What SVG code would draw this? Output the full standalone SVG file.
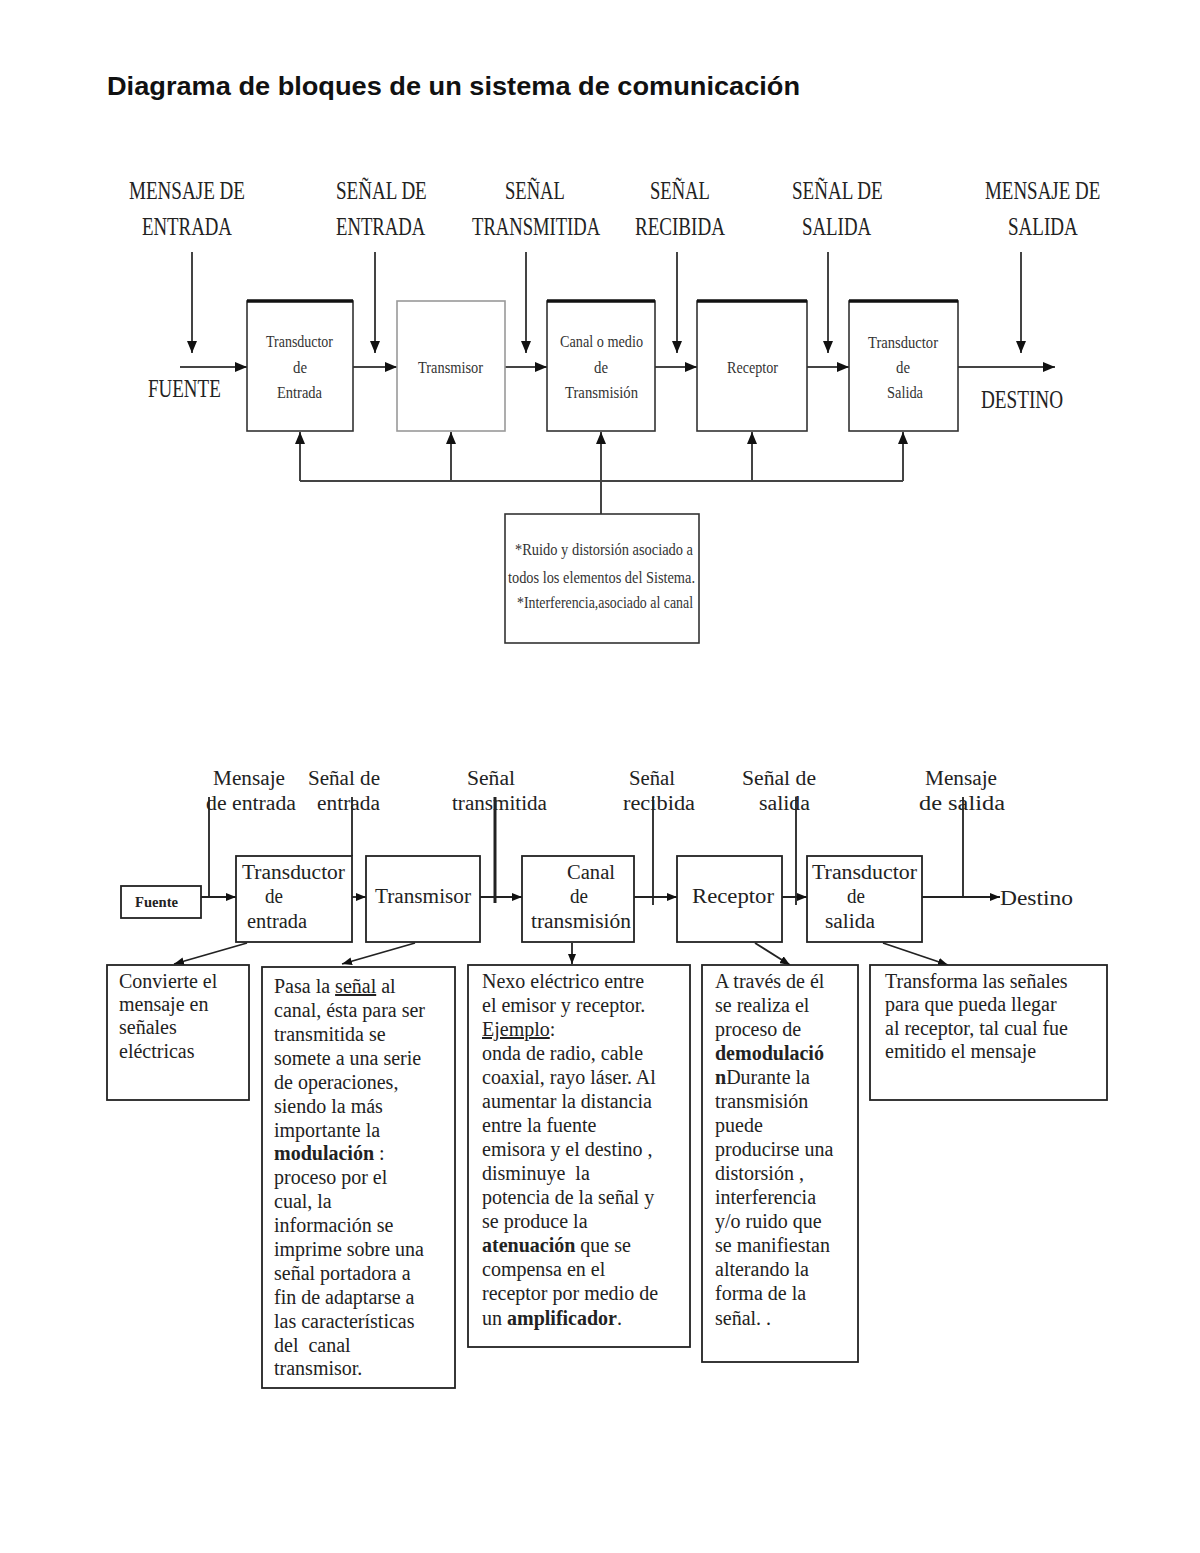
<svg xmlns="http://www.w3.org/2000/svg" width="1200" height="1553" viewBox="0 0 1200 1553">
<style>
.title{font-family:"Liberation Sans",Arial,sans-serif;font-weight:bold;font-size:25px;fill:#111}
.lbl{font-family:"Liberation Serif","Times New Roman",serif;font-size:26px;fill:#222}
.bt{font-family:"Liberation Serif","Times New Roman",serif;font-size:17px;fill:#333}
.nt{font-family:"Liberation Serif","Times New Roman",serif;font-size:16px;fill:#333}
.lb2{font-family:"Liberation Serif","Times New Roman",serif;font-size:20px;fill:#222}
.dt{font-family:"Liberation Serif","Times New Roman",serif;font-size:20px;fill:#222}
.box1{fill:#fff;stroke:#333;stroke-width:1.6}
.box1g{fill:#fff;stroke:#999;stroke-width:1.6}
.topedge{stroke:#111;stroke-width:3.5}
.box2{fill:#fff;stroke:#222;stroke-width:1.8}
.ln{stroke:#444;stroke-width:2;fill:none}
.ln2{stroke:#222;stroke-width:1.8;fill:none}
.b{font-weight:bold}
.u{text-decoration:underline}
</style>
<defs>
<marker id="ah" markerUnits="userSpaceOnUse" markerWidth="12" markerHeight="10" refX="12" refY="5" orient="auto">
<path d="M0,0 L12,5 L0,10 Z" fill="#111"/>
</marker>
<marker id="ah2" markerUnits="userSpaceOnUse" markerWidth="10" markerHeight="8" refX="10" refY="4" orient="auto">
<path d="M0,0 L10,4 L0,8 Z" fill="#111"/>
</marker>
</defs>
<rect width="1200" height="1553" fill="#fff"/>
<text class="title" x="107" y="95" textLength="693" lengthAdjust="spacingAndGlyphs">Diagrama de bloques de un sistema de comunicación</text>

<!-- Top diagram labels (horizontally condensed) -->
<g id="top-labels" transform="scale(0.72,1)">
<text class="lbl" x="179.2" y="199" textLength="161" lengthAdjust="spacingAndGlyphs">MENSAJE DE</text>
<text class="lbl" x="197.2" y="235" textLength="125" lengthAdjust="spacingAndGlyphs">ENTRADA</text>
<text class="lbl" x="466.7" y="199" textLength="126" lengthAdjust="spacingAndGlyphs">SEÑAL DE</text>
<text class="lbl" x="466.7" y="235" textLength="124" lengthAdjust="spacingAndGlyphs">ENTRADA</text>
<text class="lbl" x="701.4" y="199" textLength="83" lengthAdjust="spacingAndGlyphs">SEÑAL</text>
<text class="lbl" x="655.6" y="235" textLength="178" lengthAdjust="spacingAndGlyphs">TRANSMITIDA</text>
<text class="lbl" x="902.8" y="199" textLength="83" lengthAdjust="spacingAndGlyphs">SEÑAL</text>
<text class="lbl" x="881.9" y="235" textLength="125" lengthAdjust="spacingAndGlyphs">RECIBIDA</text>
<text class="lbl" x="1100" y="199" textLength="126" lengthAdjust="spacingAndGlyphs">SEÑAL DE</text>
<text class="lbl" x="1113.9" y="235" textLength="96" lengthAdjust="spacingAndGlyphs">SALIDA</text>
<text class="lbl" x="1368.1" y="199" textLength="160" lengthAdjust="spacingAndGlyphs">MENSAJE DE</text>
<text class="lbl" x="1400" y="235" textLength="97" lengthAdjust="spacingAndGlyphs">SALIDA</text>
<text class="lbl" x="205.6" y="397" textLength="101" lengthAdjust="spacingAndGlyphs">FUENTE</text>
<text class="lbl" x="1362.5" y="408" textLength="114" lengthAdjust="spacingAndGlyphs">DESTINO</text>
</g>

<!-- Top connectors -->
<g id="top-connectors">
<line class="ln" x1="180" y1="367" x2="247" y2="367" marker-end="url(#ah)"/>
<line class="ln" x1="353" y1="367" x2="397" y2="367" marker-end="url(#ah)"/>
<line class="ln" x1="505" y1="367" x2="547" y2="367" marker-end="url(#ah)"/>
<line class="ln" x1="655" y1="367" x2="697" y2="367" marker-end="url(#ah)"/>
<line class="ln" x1="807" y1="367" x2="849" y2="367" marker-end="url(#ah)"/>
<line class="ln" x1="958" y1="367" x2="1055" y2="367" marker-end="url(#ah)"/>
<line class="ln" x1="192" y1="252" x2="192" y2="353" marker-end="url(#ah)"/>
<line class="ln" x1="375" y1="252" x2="375" y2="353" marker-end="url(#ah)"/>
<line class="ln" x1="526" y1="252" x2="526" y2="353" marker-end="url(#ah)"/>
<line class="ln" x1="677" y1="252" x2="677" y2="353" marker-end="url(#ah)"/>
<line class="ln" x1="828" y1="252" x2="828" y2="353" marker-end="url(#ah)"/>
<line class="ln" x1="1021" y1="252" x2="1021" y2="353" marker-end="url(#ah)"/>
<line class="ln" x1="300" y1="481" x2="903" y2="481"/>
<line class="ln" x1="300" y1="481" x2="300" y2="432" marker-end="url(#ah)"/>
<line class="ln" x1="451" y1="481" x2="451" y2="432" marker-end="url(#ah)"/>
<line class="ln" x1="601" y1="481" x2="601" y2="432" marker-end="url(#ah)"/>
<line class="ln" x1="752" y1="481" x2="752" y2="432" marker-end="url(#ah)"/>
<line class="ln" x1="903" y1="481" x2="903" y2="432" marker-end="url(#ah)"/>
<line class="ln" x1="601" y1="481" x2="601" y2="514"/>
</g>

<!-- Top nodes -->
<g id="t-transductor-entrada">
<rect class="box1" x="247" y="301" width="106" height="130"/>
<line class="topedge" x1="247" y1="301" x2="353" y2="301"/>
<text class="bt" x="266" y="347" textLength="67" lengthAdjust="spacingAndGlyphs">Transductor</text>
<text class="bt" x="293" y="373" textLength="14" lengthAdjust="spacingAndGlyphs">de</text>
<text class="bt" x="277" y="398" textLength="45" lengthAdjust="spacingAndGlyphs">Entrada</text>
</g>
<g id="t-transmisor">
<rect class="box1g" x="397" y="301" width="108" height="130"/>
<text class="bt" x="418" y="373" textLength="65" lengthAdjust="spacingAndGlyphs">Transmisor</text>
</g>
<g id="t-canal">
<rect class="box1" x="547" y="301" width="108" height="130"/>
<line class="topedge" x1="547" y1="301" x2="655" y2="301"/>
<text class="bt" x="560" y="347" textLength="83" lengthAdjust="spacingAndGlyphs">Canal o medio</text>
<text class="bt" x="594" y="373" textLength="14" lengthAdjust="spacingAndGlyphs">de</text>
<text class="bt" x="565" y="398" textLength="73" lengthAdjust="spacingAndGlyphs">Transmisión</text>
</g>
<g id="t-receptor">
<rect class="box1" x="697" y="301" width="110" height="130"/>
<line class="topedge" x1="697" y1="301" x2="807" y2="301"/>
<text class="bt" x="727" y="373" textLength="51" lengthAdjust="spacingAndGlyphs">Receptor</text>
</g>
<g id="t-transductor-salida">
<rect class="box1" x="849" y="301" width="109" height="130"/>
<line class="topedge" x1="849" y1="301" x2="958" y2="301"/>
<text class="bt" x="868" y="348" textLength="70" lengthAdjust="spacingAndGlyphs">Transductor</text>
<text class="bt" x="896" y="373" textLength="14" lengthAdjust="spacingAndGlyphs">de</text>
<text class="bt" x="887" y="398" textLength="36" lengthAdjust="spacingAndGlyphs">Salida</text>
</g>
<g id="t-ruido">
<rect class="box1" x="505" y="514" width="194" height="129"/>
<text class="nt" x="515" y="555" textLength="178" lengthAdjust="spacingAndGlyphs">*Ruido y distorsión asociado a</text>
<text class="nt" x="508" y="583" textLength="187" lengthAdjust="spacingAndGlyphs">todos los elementos del Sistema.</text>
<text class="nt" x="517" y="608" textLength="176" lengthAdjust="spacingAndGlyphs">*Interferencia,asociado al canal</text>
</g>

<!-- Bottom labels -->
<g id="bottom-labels">
<text class="lb2" x="213" y="785" textLength="72" lengthAdjust="spacingAndGlyphs">Mensaje</text>
<text class="lb2" x="206" y="810" textLength="90" lengthAdjust="spacingAndGlyphs">de entrada</text>
<text class="lb2" x="308" y="785" textLength="72" lengthAdjust="spacingAndGlyphs">Señal de</text>
<text class="lb2" x="317" y="810" textLength="63" lengthAdjust="spacingAndGlyphs">entrada</text>
<text class="lb2" x="467" y="785" textLength="48" lengthAdjust="spacingAndGlyphs">Señal</text>
<text class="lb2" x="452" y="810" textLength="95" lengthAdjust="spacingAndGlyphs">transmitida</text>
<text class="lb2" x="629" y="785" textLength="46" lengthAdjust="spacingAndGlyphs">Señal</text>
<text class="lb2" x="623" y="810" textLength="72" lengthAdjust="spacingAndGlyphs">recibida</text>
<text class="lb2" x="742" y="785" textLength="74" lengthAdjust="spacingAndGlyphs">Señal de</text>
<text class="lb2" x="759" y="810" textLength="51" lengthAdjust="spacingAndGlyphs">salida</text>
<text class="lb2" x="925" y="785" textLength="72" lengthAdjust="spacingAndGlyphs">Mensaje</text>
<text class="lb2" x="919" y="810" textLength="86" lengthAdjust="spacingAndGlyphs">de salida</text>
<text class="lb2" x="1000" y="905" textLength="73" lengthAdjust="spacingAndGlyphs">Destino</text>
</g>

<!-- Bottom connectors -->
<g id="bottom-connectors">
<line class="ln2" x1="201" y1="897" x2="236" y2="897" marker-end="url(#ah2)"/>
<line class="ln2" x1="209" y1="797" x2="209" y2="897"/>
<line class="ln2" x1="352" y1="897" x2="366" y2="897" marker-end="url(#ah2)"/>
<line class="ln2" x1="352" y1="797" x2="352" y2="856"/>
<line class="ln2" x1="480" y1="897" x2="522" y2="897" marker-end="url(#ah2)"/>
<line class="ln2" x1="495" y1="797" x2="495" y2="903" style="stroke-width:3"/>
<line class="ln2" x1="634" y1="897" x2="677" y2="897" marker-end="url(#ah2)"/>
<line class="ln2" x1="653" y1="797" x2="653" y2="905"/>
<line class="ln2" x1="765" y1="897" x2="807" y2="897" marker-end="url(#ah2)"/>
<line class="ln2" x1="796" y1="797" x2="796" y2="905"/>
<line class="ln2" x1="922" y1="897" x2="1000" y2="897" marker-end="url(#ah2)"/>
<line class="ln2" x1="963" y1="797" x2="963" y2="897"/>
<line class="ln2" x1="247" y1="943" x2="174" y2="964" marker-end="url(#ah2)"/>
<line class="ln2" x1="415" y1="943" x2="342" y2="964" marker-end="url(#ah2)"/>
<line class="ln2" x1="572" y1="943" x2="572" y2="964" marker-end="url(#ah2)"/>
<line class="ln2" x1="755" y1="943" x2="790" y2="965" marker-end="url(#ah2)"/>
<line class="ln2" x1="883" y1="943" x2="948" y2="965" marker-end="url(#ah2)"/>
</g>

<!-- Bottom nodes -->
<g id="b-fuente">
<rect class="box2" x="121" y="886" width="80" height="32"/>
<text class="lb2 b" x="135" y="907" style="font-size:14px" textLength="43" lengthAdjust="spacingAndGlyphs">Fuente</text>
</g>
<g id="b-transductor-entrada">
<rect class="box2" x="236" y="856" width="116" height="86"/>
<text class="lb2" x="242" y="879" textLength="103" lengthAdjust="spacingAndGlyphs">Transductor</text>
<text class="lb2" x="265" y="903" textLength="18" lengthAdjust="spacingAndGlyphs">de</text>
<text class="lb2" x="247" y="928" textLength="60" lengthAdjust="spacingAndGlyphs">entrada</text>
</g>
<g id="b-transmisor">
<rect class="box2" x="366" y="856" width="114" height="86"/>
<text class="lb2" x="375" y="903" textLength="96" lengthAdjust="spacingAndGlyphs">Transmisor</text>
</g>
<g id="b-canal">
<rect class="box2" x="522" y="856" width="112" height="86"/>
<text class="lb2" x="567" y="879" textLength="48" lengthAdjust="spacingAndGlyphs">Canal</text>
<text class="lb2" x="570" y="903" textLength="18" lengthAdjust="spacingAndGlyphs">de</text>
<text class="lb2" x="531" y="928" textLength="100" lengthAdjust="spacingAndGlyphs">transmisión</text>
</g>
<g id="b-receptor">
<rect class="box2" x="677" y="856" width="105" height="86" fill="none"/>
<text class="lb2" x="692" y="903" textLength="82" lengthAdjust="spacingAndGlyphs">Receptor</text>
</g>
<g id="b-transductor-salida">
<rect class="box2" x="807" y="856" width="115" height="86"/>
<text class="lb2" x="812" y="879" textLength="105" lengthAdjust="spacingAndGlyphs">Transductor</text>
<text class="lb2" x="847" y="903" textLength="18" lengthAdjust="spacingAndGlyphs">de</text>
<text class="lb2" x="825" y="928" textLength="50" lengthAdjust="spacingAndGlyphs">salida</text>
</g>

<g id="d-convierte">
<rect class="box2" x="107" y="965" width="142" height="135"/>
<text class="dt" x="119" y="988">Convierte el</text>
<text class="dt" x="119" y="1011">mensaje en</text>
<text class="dt" x="119" y="1034">señales</text>
<text class="dt" x="119" y="1058">eléctricas</text>
</g>
<g id="d-pasa">
<rect class="box2" x="262" y="967" width="193" height="421"/>
<text class="dt" x="274" y="993">Pasa la <tspan class="u">señal</tspan> al</text>
<text class="dt" x="274" y="1017">canal, ésta para ser</text>
<text class="dt" x="274" y="1041">transmitida se</text>
<text class="dt" x="274" y="1065">somete a una serie</text>
<text class="dt" x="274" y="1089">de operaciones,</text>
<text class="dt" x="274" y="1113">siendo la más</text>
<text class="dt" x="274" y="1137">importante la</text>
<text class="dt" x="274" y="1160"><tspan class="b">modulación</tspan> :</text>
<text class="dt" x="274" y="1184">proceso por el</text>
<text class="dt" x="274" y="1208">cual, la</text>
<text class="dt" x="274" y="1232">información se</text>
<text class="dt" x="274" y="1256">imprime sobre una</text>
<text class="dt" x="274" y="1280">señal portadora a</text>
<text class="dt" x="274" y="1304">fin de adaptarse a</text>
<text class="dt" x="274" y="1328">las características</text>
<text class="dt" x="274" y="1352" xml:space="preserve">del  canal</text>
<text class="dt" x="274" y="1375">transmisor.</text>
</g>
<g id="d-nexo">
<rect class="box2" x="468" y="965" width="222" height="382"/>
<text class="dt" x="482" y="988">Nexo eléctrico entre</text>
<text class="dt" x="482" y="1012">el emisor y receptor.</text>
<text class="dt" x="482" y="1036"><tspan class="u">Ejemplo</tspan>:</text>
<text class="dt" x="482" y="1060">onda de radio, cable</text>
<text class="dt" x="482" y="1084">coaxial, rayo láser. Al</text>
<text class="dt" x="482" y="1108">aumentar la distancia</text>
<text class="dt" x="482" y="1132">entre la fuente</text>
<text class="dt" x="482" y="1156">emisora y el destino ,</text>
<text class="dt" x="482" y="1180" xml:space="preserve">disminuye  la</text>
<text class="dt" x="482" y="1204">potencia de la señal y</text>
<text class="dt" x="482" y="1228">se produce la</text>
<text class="dt" x="482" y="1252"><tspan class="b">atenuación</tspan> que se</text>
<text class="dt" x="482" y="1276">compensa en el</text>
<text class="dt" x="482" y="1300">receptor por medio de</text>
<text class="dt" x="482" y="1325">un <tspan class="b">amplificador</tspan>.</text>
</g>
<g id="d-atraves">
<rect class="box2" x="702" y="965" width="156" height="397"/>
<text class="dt" x="715" y="988">A través de él</text>
<text class="dt" x="715" y="1012">se realiza el</text>
<text class="dt" x="715" y="1036">proceso de</text>
<text class="dt" x="715" y="1060"><tspan class="b">demodulació</tspan></text>
<text class="dt" x="715" y="1084"><tspan class="b">n</tspan>Durante la</text>
<text class="dt" x="715" y="1108">transmisión</text>
<text class="dt" x="715" y="1132">puede</text>
<text class="dt" x="715" y="1156">producirse una</text>
<text class="dt" x="715" y="1180">distorsión ,</text>
<text class="dt" x="715" y="1204">interferencia</text>
<text class="dt" x="715" y="1228">y/o ruido que</text>
<text class="dt" x="715" y="1252">se manifiestan</text>
<text class="dt" x="715" y="1276">alterando la</text>
<text class="dt" x="715" y="1300">forma de la</text>
<text class="dt" x="715" y="1325">señal. .</text>
</g>
<g id="d-transforma">
<rect class="box2" x="870" y="965" width="237" height="135"/>
<text class="dt" x="885" y="988">Transforma las señales</text>
<text class="dt" x="885" y="1011">para que pueda llegar</text>
<text class="dt" x="885" y="1035">al receptor, tal cual fue</text>
<text class="dt" x="885" y="1058">emitido el mensaje</text>
</g>
</svg>
